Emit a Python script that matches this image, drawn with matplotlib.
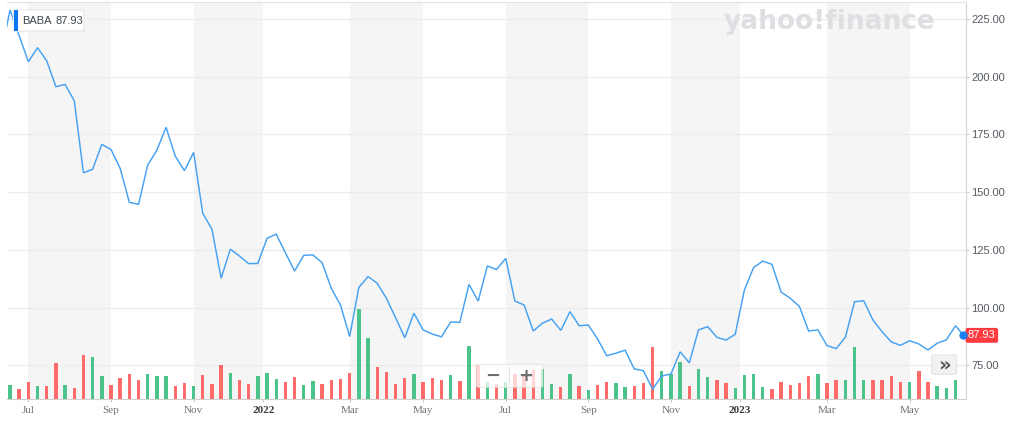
import matplotlib
matplotlib.use("Agg")
import matplotlib.pyplot as plt
import numpy as np
from matplotlib.patches import FancyBboxPatch, Rectangle
import matplotlib.transforms as mtransforms

# weekly closes (BABA), one per week, first week mid June 2021
prev_close = 209.0
closes = [228.9, 217.8, 206.5, 212.6, 206.9, 195.7, 196.7, 189.6, 158.4, 159.9,
          170.7, 168.5, 160.3, 145.6, 144.7, 161.7, 168.2, 178.1, 165.6, 159.3,
          167.2, 140.8, 133.9, 112.7, 125.3, 122.3, 119.0, 119.1, 130.0, 131.8,
          123.7, 115.8, 122.6, 122.8, 119.4, 108.3, 101.1, 87.4, 108.7, 113.4,
          110.5, 104.0, 95.6, 86.9, 97.5, 90.3, 88.5, 87.3, 93.7, 93.6,
          110.0, 102.8, 118.0, 116.5, 121.3, 102.8, 101.1, 89.8, 93.2, 95.0,
          90.1, 98.2, 92.1, 92.4, 86.4, 79.1, 80.2, 81.5, 73.4, 72.6,
          64.6, 70.3, 71.2, 80.8, 76.0, 90.3, 91.7, 87.1, 85.9, 88.4,
          107.6, 117.3, 120.1, 118.7, 106.7, 104.0, 100.4, 89.8, 90.3, 83.5,
          82.2, 87.1, 102.5, 102.9, 94.6, 89.5, 85.1, 83.6, 85.6, 84.2,
          81.6, 84.5, 86.0, 92.1]
last_price = 87.93

# weekly volume, millions of shares
volume = [68, 50, 85, 64, 64, 179, 72, 55, 220, 210,
          114, 68, 105, 124, 95, 124, 114, 114, 64, 80,
          67, 119, 75, 169, 130, 95, 75, 114, 130, 102,
          85, 110, 72, 90, 75, 95, 102, 130, 449, 304,
          160, 135, 75, 105, 127, 85, 105, 97, 119, 90,
          267, 170, 84, 75, 84, 125, 120, 145, 150, 75,
          59, 125, 67, 45, 70, 85, 80, 59, 67, 80,
          259, 139, 125, 185, 64, 149, 110, 97, 80, 55,
          122, 127, 60, 50, 85, 72, 80, 117, 127, 80,
          97, 94, 259, 94, 97, 94, 114, 85, 85, 139,
          85, 67, 55, 94]

# month ticks, in week index units
tick_pos = [2, 11, 20, 27.6, 37, 45, 54, 63, 72, 79.5, 89, 98]
tick_labels = ["Jul", "Sep", "Nov", "2022", "Mar", "May",
               "Jul", "Sep", "Nov", "2023", "Mar", "May"]
price_ticks = [75, 100, 125, 150, 175, 200, 225]

GREEN = "#4cc38a"
RED = "#ff6b6b"
LINE = "#45a1f1"


def fx(x):
    return x / 1024


def fy(y):
    return 1 - y / 433


fig = plt.figure(figsize=(10.24, 4.33), dpi=100)
rect = [fx(6.7), fy(399), fx(966) - fx(6.7), fy(2) - fy(399)]

ax = fig.add_axes(rect)
ax_vol = fig.add_axes(rect, sharex=ax)
ax_line = fig.add_axes(rect, sharex=ax, sharey=ax)
for a in (ax_vol, ax_line):
    a.patch.set_visible(False)
    a.axis("off")

xmin, xmax = -0.36, 104.14
ax.set_xlim(xmin, xmax)
ax.set_ylim(60.35, 232.4)

# alternating month shading
for a0, a1 in zip(tick_pos[0::2], tick_pos[1::2]):
    ax.axvspan(a0, a1, color="#f5f5f5", lw=0, zorder=0)
for p in price_ticks:
    ax.axhline(p, color="#ececec", lw=0.9, zorder=1)

# volume bars
x = np.arange(len(closes))
diff = np.diff([prev_close] + closes)
bar_colors = [GREEN if d >= 0 else RED for d in diff]
ax_vol.bar(x, volume, width=0.37, color=bar_colors, lw=0)
ax_vol.set_ylim(0, max(volume) * 4.43)

# price line
line_x = np.append(np.arange(-1, len(closes)), len(closes) - 1 + 6 / 7)
line_y = [prev_close] + closes + [last_price]
ax_line.plot(line_x, line_y, color=LINE, lw=1.05, solid_joinstyle="miter")
ax_line.plot(line_x[-1], last_price, "o", color="#1a7ff0", ms=5, zorder=5,
             clip_on=False)

# axes styling
ax.spines["left"].set_visible(False)
ax.spines["top"].set_color("#e3e3e3")
ax.spines["right"].set_color("#d4d4d4")
ax.spines["bottom"].set_color("#cfcfcf")
ax.yaxis.tick_right()
ax.set_yticks(price_ticks)
ax.set_yticklabels([f"{p:.2f}" for p in price_ticks], fontsize=8,
                   family="Liberation Sans", color="#555b62")
ax.tick_params(axis="y", length=2.2, width=0.8, color="#cccccc", pad=1.6)
ax.set_xticks(tick_pos)
ax.set_xticklabels(tick_labels, fontsize=8, family="Liberation Serif",
                   color="#747474")
for lab in ax.get_xticklabels():
    if lab.get_text().startswith("20"):
        lab.set_color("#3a3a3a")
        lab.set_fontweight("bold")
ax.tick_params(axis="x", length=2.5, width=0.8, color="#cccccc", pad=2.5)

# current price tag on the right axis
trans = mtransforms.blended_transform_factory(ax.transAxes, ax.transData)
ax.text(1.002, last_price, f"{last_price:.2f}", transform=trans, fontsize=8,
        family="Liberation Sans", color="white", ha="left", va="center",
        zorder=10, clip_on=False,
        bbox=dict(boxstyle="round,pad=0.22,rounding_size=0.2",
                  fc="#ff3b3f", ec="none"))

# legend chip (with a faint shadow)
fig.patches.append(FancyBboxPatch((fx(14.3), fy(32.3)), fx(84) - fx(13.3),
                                  fy(10) - fy(31),
                                  boxstyle="round,pad=0,rounding_size=0.004",
                                  transform=fig.transFigure, fc="#e9e9e9",
                                  ec="none", alpha=0.8, zorder=19))
fig.patches.append(FancyBboxPatch((fx(13.3), fy(31)), fx(84) - fx(13.3),
                                  fy(10) - fy(31),
                                  boxstyle="round,pad=0,rounding_size=0.004",
                                  transform=fig.transFigure, fc="white",
                                  ec="#e8e8e8", lw=0.8, zorder=20))
fig.patches.append(Rectangle((fx(14), fy(31)), fx(4.2), fy(10) - fy(31),
                             transform=fig.transFigure, fc="#0a78f5",
                             ec="none", zorder=21))
fig.text(fx(22.5), fy(20.8), "BABA", fontsize=8, family="Liberation Sans",
         color="#40474f", va="center", ha="left", zorder=22)
fig.text(fx(55.5), fy(20.8), f"{last_price:.2f}", fontsize=8,
         family="Liberation Sans", color="#40474f", va="center", ha="left",
         zorder=22)

# watermark
fig.text(fx(830), fy(22), "yahoo!finance", fontsize=19, fontweight="heavy",
         family="DejaVu Sans", color="#dedfe2", ha="center", va="center",
         zorder=0.5)

# zoom control
fig.patches.append(FancyBboxPatch((fx(476.7), fy(387.3)), fx(66), fy(364.3) - fy(387.3),
                                  boxstyle="round,pad=0,rounding_size=0.003",
                                  transform=fig.transFigure, fc="white",
                                  ec="#e2e2e2", lw=0.8, alpha=0.72, zorder=20))
fig.lines.append(plt.Line2D([fx(509), fx(509)], [fy(384), fy(367)],
                            transform=fig.transFigure, color="#e4e4e4",
                            lw=0.8, zorder=21))
fig.text(fx(492.5), fy(376), "\u2212", fontsize=13, fontweight="bold",
         color="#6e6e6e", ha="center", va="center", zorder=22)
fig.text(fx(526), fy(376), "+", fontsize=13, fontweight="bold",
         color="#6e6e6e", ha="center", va="center", zorder=22)

# scroll button
fig.patches.append(FancyBboxPatch((fx(931.7), fy(374.3)), fx(25), fy(355) - fy(374.3),
                                  boxstyle="round,pad=0,rounding_size=0.003",
                                  transform=fig.transFigure, fc="#f2f2f2",
                                  ec="#e4e4e4", lw=0.8, zorder=20))
fig.text(fx(944), fy(365), "\u00bb", fontsize=14, fontweight="bold",
         color="#555555", ha="center", va="center", zorder=22)

fig.savefig("out.png", dpi=100)
